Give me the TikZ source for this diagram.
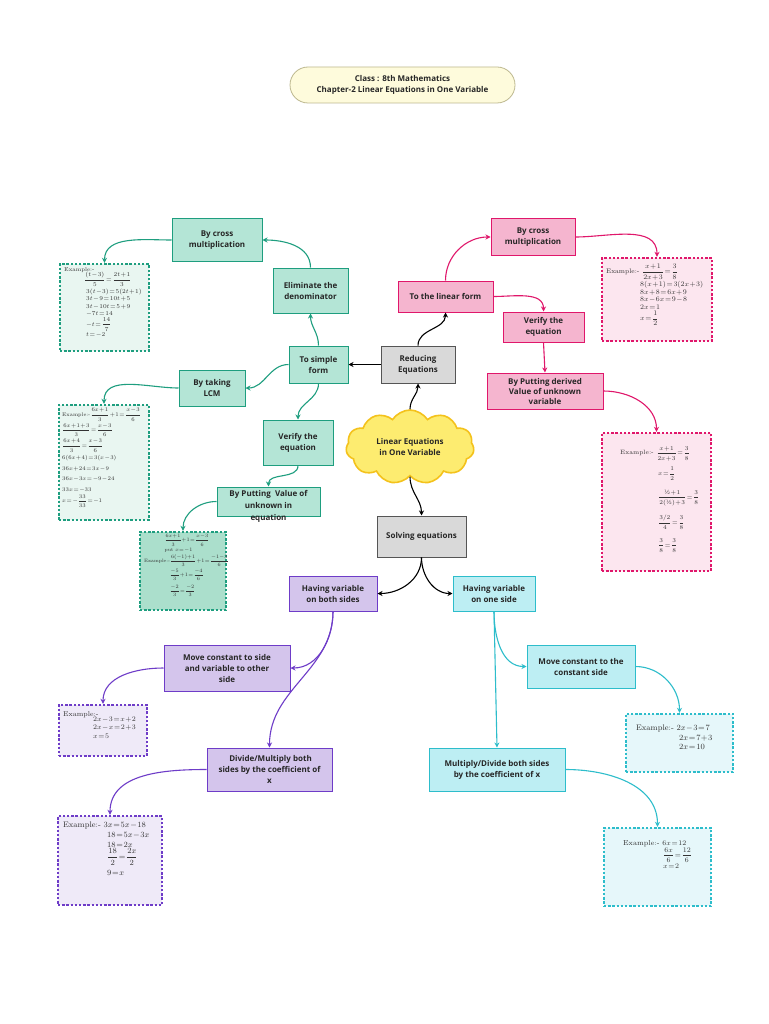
\documentclass[tikz,border=0pt]{standalone}
\usepackage{amsmath}
\usepackage{graphicx}
\usepackage{fontspec}
\setsansfont{Open Sans}
\usetikzlibrary{shapes.symbols,arrows.meta}
\definecolor{gfill}{HTML}{B4E5D6}
\definecolor{gline}{HTML}{1E9E7F}
\definecolor{gexfill}{HTML}{E9F6F1}
\definecolor{gexfillb}{HTML}{ABDFCC}
\definecolor{pfill}{HTML}{F5B5CF}
\definecolor{pline}{HTML}{E0176B}
\definecolor{pexfill}{HTML}{FCE6EF}
\definecolor{vfill}{HTML}{D4C5EC}
\definecolor{vline}{HTML}{6E3CC8}
\definecolor{vexfill}{HTML}{EFEAF8}
\definecolor{cfill}{HTML}{BDEEF3}
\definecolor{cline}{HTML}{2DBDCB}
\definecolor{cexfill}{HTML}{E6F7FA}
\definecolor{grfill}{HTML}{D9D9D9}
\definecolor{grline}{HTML}{555555}
\definecolor{titlef}{HTML}{FEFBDC}
\definecolor{titleb}{HTML}{BDB88F}
\definecolor{cloudf}{HTML}{FDEC70}
\definecolor{cloudb}{HTML}{F4C21C}
\newcommand\tightmath{\thinmuskip=1mu\medmuskip=1mu\thickmuskip=1.5mu}
\newcommand\tightermath{\thinmuskip=0.5mu\medmuskip=0.5mu\thickmuskip=1mu}
\newcommand\slA[1]{\scalebox{0.93}{#1}}
\newcommand\slB[1]{\scalebox{0.85}{#1}}
\tikzset{
  box/.style={draw, line width=1pt, align=center, inner sep=1pt, text=black!85,
    font=\sffamily\bfseries\fontsize{8}{11}\selectfont},
  gbox/.style={box, draw=gline, fill=gfill},
  pbox/.style={box, draw=pline, fill=pfill},
  vbox/.style={box, draw=vline, fill=vfill},
  cbox/.style={box, draw=cline, fill=cfill},
  grbox/.style={box, draw=grline, fill=grfill},
  exbox/.style={line width=2.4pt, dash pattern=on 2.4pt off 1.8pt, inner sep=0pt},
  extxt/.style={align=left, inner sep=0pt, anchor=north west, text=black!80,
    execute at begin node=\tightmath},
  conn/.style={line width=1.1pt, -{Stealth[length=5pt,width=5pt]}},
  gconn/.style={conn, draw=gline},
  pconn/.style={conn, draw=pline},
  vconn/.style={conn, draw=vline},
  cconn/.style={conn, draw=cline},
  bconn/.style={conn, draw=black},
}
\begin{document}
\begin{tikzpicture}[x=1pt,y=-1pt]
\useasboundingbox[fill=white] (0,0) rectangle (768,1024);

% title
\node[box, draw=titleb, fill=titlef, rounded corners=18pt, line width=0.8pt,
  minimum width=225pt, minimum height=36pt] (title) at (402.5,85)
  {Class : 8th Mathematics\\Chapter-2 Linear Equations in One Variable};

% centre
\node[cloud, cloud puffs=11, cloud puff arc=115, aspect=1.75, draw=cloudb, fill=cloudf,
  line width=1.6pt, inner sep=0pt, minimum width=128pt, minimum height=74pt, align=center,
  text=black!85, font=\sffamily\bfseries\fontsize{8}{11}\selectfont] (cloud) at (410,447)
  {Linear Equations\\in One Variable};
\node[grbox, minimum width=74pt, minimum height=37pt] (reduce) at (418,364.5) {Reducing\\Equations};
\node[grbox, minimum width=89pt, minimum height=41pt] (solve) at (421.5,536.5) {Solving equations};

% pink
\node[pbox, minimum width=95pt, minimum height=31pt] (linform) at (445.5,296.5) {To the linear form};
\node[pbox, minimum width=84pt, minimum height=36pt] (pcross) at (533,237) {By cross\\multiplication};
\node[pbox, minimum width=81pt, minimum height=30pt] (pverify) at (543.5,327) {Verify the\\equation};
\node[pbox, minimum width=116pt, minimum height=36pt, font=\sffamily\bfseries\fontsize{8}{10}\selectfont] (pput) at (545,391) {By Putting derived\\Value of unknown\\variable};
\node[exbox, draw=pline, fill=pexfill, minimum width=110pt, minimum height=83pt] (pex1) at (657,299.5) {};
\node[exbox, draw=pline, fill=pexfill, minimum width=109pt, minimum height=138pt] (pex2) at (656.5,502) {};

% green
\node[gbox, minimum width=90pt, minimum height=42pt] (gcross) at (217,240) {By cross\\multiplication};
\node[gbox, minimum width=75pt, minimum height=45pt] (gelim) at (310.5,290.5) {Eliminate the\\denominator};
\node[gbox, minimum width=59pt, minimum height=37pt] (gsimple) at (318.5,364.5) {To simple\\form};
\node[gbox, minimum width=66pt, minimum height=36pt] (glcm) at (212,388) {By taking\\LCM};
\node[gbox, minimum width=70pt, minimum height=45pt] (gverify) at (298,442.5) {Verify the\\equation};
\node[gbox, minimum width=103pt, minimum height=29pt] (gput) at (268.5,501.5) {};
\node[box, draw=none, font=\sffamily\bfseries\fontsize{8}{12}\selectfont] (gputtxt) at (268.5,506) {By Putting\ \ Value of\\unknown in\\equation};
\node[exbox, draw=gline, fill=gexfill, minimum width=89pt, minimum height=87pt] (gex1) at (104.5,307.5) {};
\node[exbox, draw=gline, fill=gexfill, minimum width=90pt, minimum height=115pt] (gex2) at (104,462.5) {};
\node[exbox, draw=gline, fill=gexfillb, minimum width=86pt, minimum height=78pt] (gex3) at (183,571) {};

% purple
\node[vbox, minimum width=88pt, minimum height=35pt] (vboth) at (333,593.5) {Having variable\\on both sides};
\node[vbox, minimum width=126pt, minimum height=46pt] (vmove) at (227,668) {Move constant to side\\and variable to other\\side};
\node[vbox, minimum width=125pt, minimum height=43pt] (vdiv) at (269.5,769.5) {\ Divide/Multiply both\\sides by the coefficient of\\x};
\node[exbox, draw=vline, fill=vexfill, minimum width=88pt, minimum height=51pt] (vex1) at (103,730.5) {};
\node[exbox, draw=vline, fill=vexfill, minimum width=104pt, minimum height=89pt] (vex2) at (110,860.5) {};

% cyan
\node[cbox, minimum width=82pt, minimum height=35pt] (cone) at (494,593.5) {Having variable\\on one side};
\node[cbox, minimum width=108pt, minimum height=43pt] (cmove) at (581,666.5) {Move constant to the\\constant side};
\node[cbox, minimum width=136pt, minimum height=43pt] (cmul) at (497,769.5) {Multiply/Divide both sides\\by the coefficient of x};
\node[exbox, draw=cline, fill=cexfill, minimum width=107pt, minimum height=58pt] (cex1) at (679.5,743) {};
\node[exbox, draw=cline, fill=cexfill, minimum width=107pt, minimum height=78pt] (cex2) at (657.5,867) {};

% ---------- example texts
\node[extxt, font=\fontsize{5.6}{7.4}\selectfont] (t1) at (64,267) {Example:-\\[-1pt]
\hspace*{20pt}$\dfrac{(t-3)}{5}=\dfrac{2t+1}{3}$\\[1pt]
\hspace*{22pt}$3(t-3)=5(2t+1)$\\
\hspace*{22pt}$3t-9=10t+5$\\
\hspace*{22pt}$3t-10t=5+9$\\
\hspace*{22pt}$-7t=14$\\
\hspace*{22pt}$-t=\dfrac{14}{7}$\\
\hspace*{22pt}$t=-2$};

\node[extxt, font=\fontsize{5.6}{7.6}\selectfont] (t2) at (62,408) {\slA{Example:-$\dfrac{6x+1}{3}+1=\dfrac{x-3}{6}$}\\[1.5pt]
\slA{$\dfrac{6x+1+3}{3}=\dfrac{x-3}{6}$}\\[1.5pt]
\slA{$\dfrac{6x+4}{3}=\dfrac{x-3}{6}$}\\[2.5pt]
\slA{$6(6x+4)=3(x-3)$}\\[3pt]
\slA{$36x+24=3x-9$}\\[3pt]
\slA{$36x-3x=-9-24$}\\[3pt]
\slA{$33x=-33$}\\[1.5pt]
\slA{$x=-\dfrac{33}{33}=-1$}};

\node[extxt, font=\fontsize{5.6}{7}\selectfont, execute at begin node=\tightermath] (t3) at (144,534) {\slB{\hspace*{24pt}$\dfrac{6x+1}{3}+1=\dfrac{x-3}{6}$}\\[1pt]
\slB{\hspace*{24pt}put $x=-1$}\\[1pt]
\slB{Example:-$\dfrac{6(-1)+1}{3}+1=\dfrac{-1-3}{6}$}\\[1.5pt]
\slB{\hspace*{30pt}$\dfrac{-5}{3}+1=\dfrac{-4}{6}$}\\[3pt]
\slB{\hspace*{30pt}$\dfrac{-2}{3}=\dfrac{-2}{3}$}};

\node[extxt, font=\fontsize{6.6}{7.9}\selectfont] (t4) at (606,264) {Example:- $\dfrac{x+1}{2x+3}=\dfrac{3}{8}$\\
\hspace*{34pt}$8(x+1)=3(2x+3)$\\
\hspace*{34pt}$8x+8=6x+9$\\
\hspace*{34pt}$8x-6x=9-8$\\
\hspace*{34pt}$2x=1$\\
\hspace*{34pt}$x=\dfrac{1}{2}$};

\node[extxt, font=\fontsize{6.2}{7.5}\selectfont] (t5) at (620,446) {Example:- $\dfrac{x+1}{2x+3}=\dfrac{3}{8}$\\[5pt]
\hspace*{38pt}$x=\dfrac{1}{2}$\\[8pt]
\hspace*{38pt}$\dfrac{\mbox{½}+1}{2(\mbox{½})+3}=\dfrac{3}{8}$\\[8pt]
\hspace*{38pt}$\dfrac{3/2}{4}=\dfrac{3}{8}$\\[8pt]
\hspace*{38pt}$\dfrac{3}{8}=\dfrac{3}{8}$};

\node[extxt, font=\fontsize{7}{8.6}\selectfont] (t6) at (63,711) {Example:-\\[-3.5pt]
\hspace*{30pt}$2x-3=x+2$\\
\hspace*{30pt}$2x-x=2+3$\\
\hspace*{30pt}$x=5$};

\node[extxt, font=\fontsize{8}{10}\selectfont] (t7) at (63,822) {Example:- $3x=5x-18$\\
\hspace*{44pt}$18=5x-3x$\\
\hspace*{44pt}$18=2x$\\
\hspace*{44pt}$\dfrac{18}{2}=\dfrac{2x}{2}$\\[4pt]
\hspace*{44pt}$9=x$};

\node[extxt, font=\fontsize{8}{9.4}\selectfont] (t8) at (636,725) {Example:- $2x-3=7$\\
\hspace*{43pt}$2x=7+3$\\
\hspace*{43pt}$2x=10$};

\node[extxt, font=\fontsize{7.2}{8.6}\selectfont] (t9) at (623,840) {Example:- $6x=12$\\
\hspace*{40pt}$\dfrac{6x}{6}=\dfrac{12}{6}$\\
\hspace*{40pt}$x=2$};

% ---------- connectors
\draw[bconn] (cloud.north) to[out=90,in=-90] (reduce.south);
\draw[bconn] (cloud.south) to[out=-90,in=90] (solve.north);
\draw[bconn] (reduce.north) to[out=90,in=-90] (linform.south);
\draw[bconn] (reduce.west) -- (gsimple.east);
\draw[bconn] (solve.south) to[out=-90,in=0] (vboth.east);
\draw[bconn] (solve.south) to[out=-90,in=180] (cone.west);

\draw[pconn] (linform.north) to[out=90,in=180] (pcross.west);
\draw[pconn] (pcross.east) to[out=0,in=90] (pex1.north);
\draw[pconn] (linform.east) to[out=0,in=90] (pverify.north);
\draw[pconn] (pverify.south) -- (pput.north);
\draw[pconn] (pput.east) to[out=0,in=90] (pex2.north);

\draw[gconn] (gsimple.north) to[out=90,in=-90] (gelim.south);
\draw[gconn] (gelim.north) to[out=90,in=0] (gcross.east);
\draw[gconn] (gcross.west) to[out=180,in=90] (gex1.north);
\draw[gconn] (gsimple.west) to[out=180,in=0] (glcm.east);
\draw[gconn] (glcm.west) to[out=180,in=90] (gex2.north);
\draw[gconn] (gsimple.south) to[out=-90,in=90] (gverify.north);
\draw[gconn] (gverify.south) to[out=-90,in=90] (gput.north);
\draw[gconn] (gput.west) to[out=180,in=90] (gex3.north);

\draw[vconn] (vboth.south) to[out=-90,in=0] (vmove.east);
\draw[vconn] (vboth.south) to[out=-90,in=90] (vdiv.north);
\draw[vconn] (vmove.west) to[out=180,in=90] (vex1.north);
\draw[vconn] (vdiv.west) to[out=180,in=90] (vex2.north);

\draw[cconn] (cone.south) to[out=-90,in=180] (cmove.west);
\draw[cconn] (cone.south) -- (cmul.north);
\draw[cconn] (cmove.east) to[out=0,in=90] (cex1.north);
\draw[cconn] (cmul.east) to[out=0,in=90] (cex2.north);
\end{tikzpicture}
\end{document}
